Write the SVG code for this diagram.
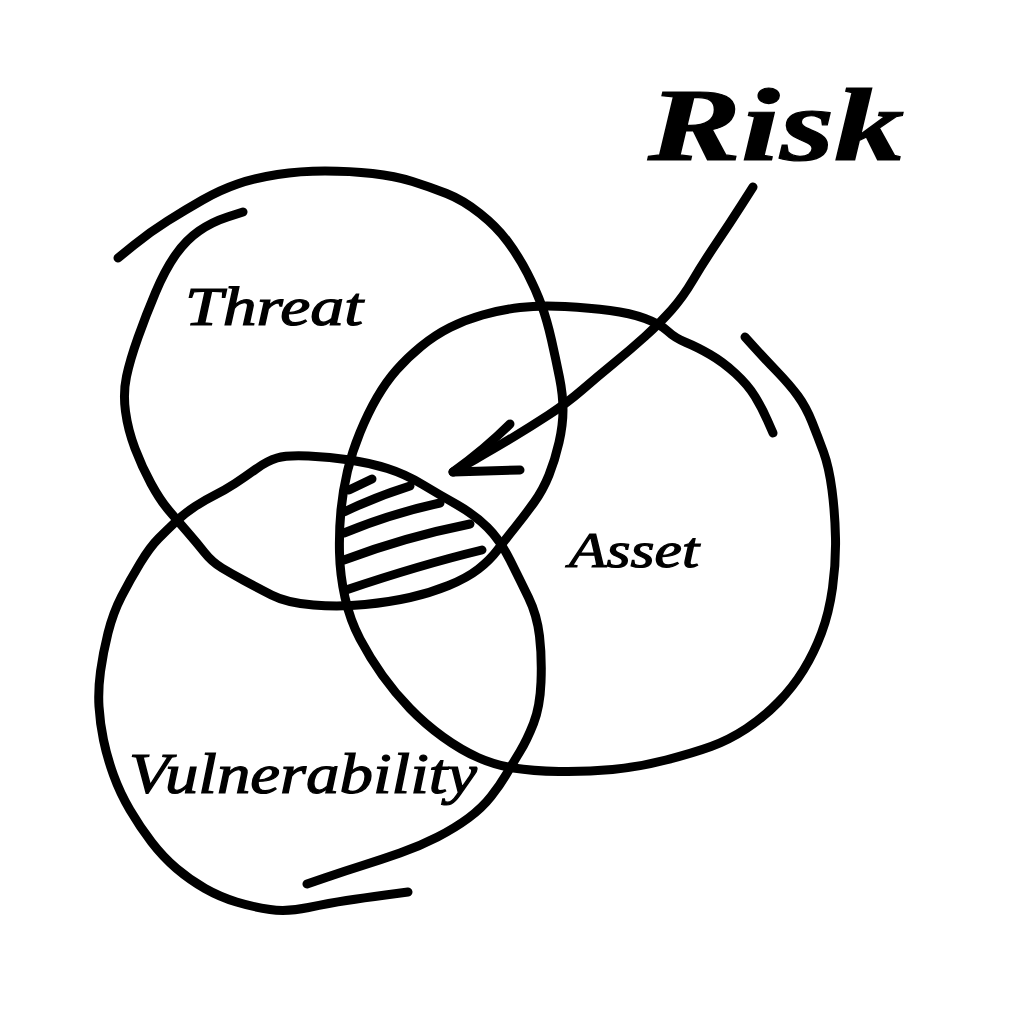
<svg xmlns="http://www.w3.org/2000/svg" width="1017" height="1024" viewBox="0 0 1017 1024">
  <style>
    .ink { fill: none; stroke: #000; stroke-width: 9; stroke-linecap: round; stroke-linejoin: round; }
    .hatch { fill: none; stroke: #000; stroke-width: 9; stroke-linecap: round; }
    .lbl { font-family: "Liberation Serif", "DejaVu Serif", serif; font-style: italic; fill: #000; stroke: #000; stroke-width: 1.2; }
  </style>
  <rect width="1017" height="1024" fill="#fff"/>
  <g id="threat">
    <path class="ink" d="M243,212 L227.5,217 Q212,222 199,231 Q186,240 175.5,255 Q165,270 155.5,292.5 Q146,315 138,337.5 Q130,360 126.5,376.5 Q123,393 125.5,411.5 Q128,430 135,448.5 Q142,467 151,483.5 Q160,500 168.5,510 Q177,520 187,531.5 Q197,543 204.5,552.5 Q212,562 222,568 Q232,574 244,580.5 Q256,587 271.5,595 Q287,603 313.5,605 Q340,607 365,604.5 Q390,602 410,597.5 Q430,593 448.5,585.5 Q467,578 478.5,569 Q490,560 497.5,550 Q505,540 515,527.5 Q525,515 534,502.5 Q543,490 549,475 Q555,460 559,442.5 Q563,425 563,410 Q563,395 559.5,377.5 Q556,360 551.5,340 Q547,320 541.5,305 Q536,290 527.5,273.5 Q519,257 508,242 Q497,227 480,213.5 Q463,200 446.5,193.5 Q430,187 412.5,181.5 Q395,176 372.5,173.5 Q350,171 325,171 Q300,171 277.5,174.5 Q255,178 237.5,184 Q220,190 202.5,200 Q185,210 167.5,221 Q150,232 134,245 L118,258"/>
    <text class="lbl" x="185" y="325" font-size="54" textLength="178" lengthAdjust="spacingAndGlyphs">Threat</text>
  </g>
  <g id="asset">
    <path class="ink" d="M745,337 L754.5,347.5 Q764,358 777,371.5 Q790,385 798,396 Q806,407 812,422 Q818,437 823.5,452 Q829,467 832,490 Q835,513 835.5,538 Q836,563 832.5,588 Q829,613 821.5,633 Q814,653 803.5,670 Q793,687 778.5,702 Q764,717 746.5,728.5 Q729,740 711,746.5 Q693,753 666,760 Q639,767 612.5,769.5 Q586,772 559,771.5 Q532,771 513.5,768 Q495,765 478,757.5 Q461,750 443,737 Q425,724 410,708.5 Q395,693 382.5,675.5 Q370,658 360,639 Q350,620 345,597.5 Q340,575 339.5,552.5 Q339,530 341,510 Q343,490 347.5,471 Q352,452 360,432.5 Q368,413 377,397.5 Q386,382 396.5,370 Q407,358 421,346.5 Q435,335 450,327.5 Q465,320 482.5,315 Q500,310 520,307.5 Q540,305 565,306.5 Q590,308 610,310.5 Q630,313 645,318.5 Q660,324 667.5,331 Q675,338 686,342.5 Q697,347 710,354.5 Q723,362 735.5,373.5 Q748,385 755,396.5 Q762,408 767.5,420.5 L773,433"/>
    <text class="lbl" x="569" y="567" font-size="50" textLength="130" lengthAdjust="spacingAndGlyphs">Asset</text>
  </g>
  <g id="vulnerability">
    <path class="ink" d="M408,892 L385.5,895 Q363,898 346.5,900.5 Q330,903 308.5,907.5 Q287,912 270,909.5 Q253,907 236.5,902 Q220,897 205,888.5 Q190,880 176.5,868.5 Q163,857 151.5,842 Q140,827 130,810 Q120,793 113.5,775 Q107,757 103.5,740 Q100,723 99,706.5 Q98,690 100.5,671.5 Q103,653 108,633 Q113,613 121.5,596.5 Q130,580 140,563.5 Q150,547 158.5,538.5 Q167,530 176,521.5 Q185,513 195,506.5 Q205,500 215,495 Q225,490 235,483.5 Q245,477 256,469 Q267,461 277,458 Q287,455 308.5,456 Q330,457 350,460 Q370,463 387.5,468.5 Q405,474 422.5,484.5 Q440,495 457.5,505 Q475,515 487.5,527.5 Q500,540 510,560 Q520,580 528.5,597.5 Q537,615 539.5,636 Q542,657 541,682 Q540,707 533.5,723.5 Q527,740 520,751.5 Q513,763 506.5,774 Q500,785 491,796.5 Q482,808 468.5,818 Q455,828 437.5,837 Q420,846 400,853 Q380,860 362.5,865.5 Q345,871 326,877.5 L307,884"/>
    <text class="lbl" x="129" y="793" font-size="56" textLength="348" lengthAdjust="spacingAndGlyphs">Vulnerability</text>
  </g>
  <g id="risk-zone">
    <path class="hatch" d="M349,490 L372,479"/>
    <path class="hatch" d="M344,512 Q375,497 410,486"/>
    <path class="hatch" d="M344,533 Q390,514 440,503"/>
    <path class="hatch" d="M344,560 Q405,537 470,524"/>
    <path class="hatch" d="M346,590 Q420,565 482,550"/>
  </g>
  <g id="risk">
    <text class="lbl" x="648" y="160" font-size="104" font-weight="bold" textLength="256" lengthAdjust="spacingAndGlyphs">Risk</text>
  </g>
  <g id="connectors">
    <path class="ink" d="M753,187 L741.5,205 Q730,223 716.5,243 Q703,263 693,280 Q683,297 671.5,310 Q660,323 645,336.5 Q630,350 613.5,363.5 Q597,377 582,390 Q567,403 548.5,415 Q530,427 513.5,437 Q497,447 475,459.5 L453,472"/>
    <path class="ink" d="M510,424 Q485,449 453,472 L520,470"/>
  </g>
</svg>
